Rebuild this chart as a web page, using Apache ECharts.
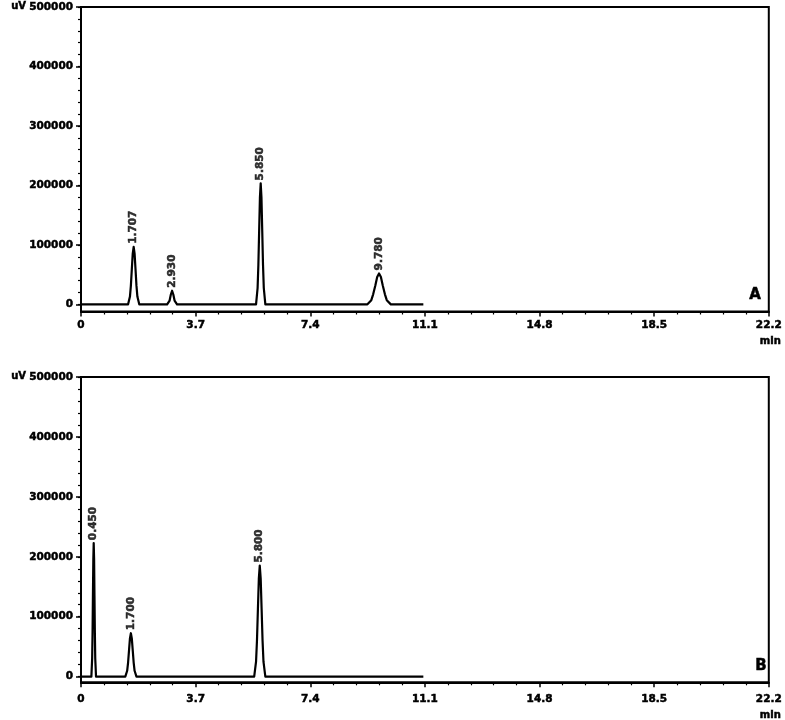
<!DOCTYPE html>
<html>
<head>
<meta charset="utf-8">
<script src="https://cdn.jsdelivr.net/npm/echarts@6/dist/echarts.min.js"></script>
<style>
  html, body { margin: 0; padding: 0; background: #fff; }
  #chart { width: 785px; height: 720px; }
</style>
</head>
<body>
<div id="chart"></div>
<script>
// ---- Data ----
// Chromatogram A (time in min, signal in uV)
const timeA = [0, 1.0, 1.52, 1.58, 1.61, 1.64, 1.67, 1.70, 1.73, 1.76, 1.79, 1.82, 1.88, 2.3,
  2.78, 2.86, 2.90, 2.94, 2.98, 3.02, 3.10, 3.5, 4.5, 5.2,
  5.65, 5.70, 5.725, 5.75, 5.775, 5.80, 5.825, 5.85, 5.875, 5.90, 5.95, 6.5, 7.5, 8.5,
  9.245, 9.37, 9.43, 9.50, 9.56, 9.62, 9.68, 9.74, 9.81, 9.87, 10.0, 10.5, 11.05];
const signalA = [0, 0, 0, 13100, 31500, 58800, 85400, 96800, 85400, 58800, 31500, 13100, 0, 0,
  0, 6400, 16600, 22900, 16600, 6400, 0, 0, 0, 0,
  0, 27500, 66100, 123500, 179400, 203400, 179400, 123500, 66100, 27500, 0, 0, 0, 0,
  0, 7000, 16900, 31600, 46000, 52100, 46000, 31600, 16900, 7000, 0, 0, 0];
const peakTimeA = [1.70, 2.94, 5.80, 9.62];
const peakHeightA = [96800, 22900, 203400, 52100];
const peakLabelA = ['1.707', '2.930', '5.850', '9.780'];

// Chromatogram B
const timeB = [0, 0.2, 0.335, 0.36, 0.373, 0.385, 0.398, 0.41, 0.423, 0.435, 0.448, 0.46, 0.485, 1.0,
  1.43, 1.49, 1.52, 1.55, 1.58, 1.61, 1.64, 1.67, 1.70, 1.73, 1.79, 3.0, 4.5,
  5.59, 5.65, 5.68, 5.71, 5.74, 5.77, 5.80, 5.83, 5.86, 5.89, 5.95, 7.5, 9.5, 11.05];
const signalB = [0, 0, 0, 30100, 72400, 135200, 196500, 222800, 196500, 135200, 72400, 30100, 0, 0,
  0, 9800, 23600, 44000, 63900, 72500, 63900, 44000, 23600, 9800, 0, 0, 0,
  0, 25000, 60300, 112500, 163500, 185400, 163500, 112500, 60300, 25000, 0, 0, 0, 0];
const peakTimeB = [0.41, 1.61, 5.77];
const peakHeightB = [222800, 72500, 185400];
const peakLabelB = ['0.450', '1.700', '5.800'];

// Ticks
const yMajorTicks = [0, 100000, 200000, 300000, 400000, 500000];
const yMinorTicks = [0, 20000, 40000, 60000, 80000, 100000, 120000, 140000, 160000, 180000,
  200000, 220000, 240000, 260000, 280000, 300000, 320000, 340000, 360000, 380000,
  400000, 420000, 440000, 460000, 480000, 500000];
const xTickStep = 3.7;
const xMax = 22.2;

// ---- Chart ----
const FONT = 'DejaVu Sans';
const pairs = (xs, ys) => xs.map((x, i) => [x, ys[i]]);
const heavy = { textBorderColor: '#000', textBorderWidth: 0.5 };

function xAxisFor(gridIndex, labelMargin) {
  return {
    type: 'value', gridIndex: gridIndex, min: 0, max: xMax, interval: xTickStep,
    axisLine: { onZero: false, lineStyle: { color: '#000', width: 2 } },
    axisTick: { length: 5, lineStyle: { color: '#000', width: 1.5 } },
    minorTick: { show: true, splitNumber: 5, length: 3, lineStyle: { color: '#000', width: 1.2 } },
    splitLine: { show: false },
    axisLabel: Object.assign({
      color: '#000', fontFamily: FONT, fontWeight: 'bold', fontSize: 10.5, margin: labelMargin,
      formatter: v => String(Math.round(v * 10) / 10)
    }, heavy)
  };
}
function yAxesFor(gridIndex, yMin) {
  return [{
    type: 'value', gridIndex: gridIndex, min: yMin, max: 500000,
    axisLine: { show: true, lineStyle: { color: '#000', width: 2 } },
    axisTick: { show: true, length: 5, customValues: yMajorTicks, lineStyle: { color: '#000', width: 1.5 } },
    splitLine: { show: false },
    axisLabel: Object.assign({
      color: '#000', fontFamily: FONT, fontWeight: 'bold', fontSize: 10.5, margin: 8,
      customValues: yMajorTicks,
      formatter: v => String(Math.round(v))
    }, heavy)
  }, {
    type: 'value', gridIndex: gridIndex, min: yMin, max: 500000, position: 'left',
    axisLine: { show: false },
    axisTick: { show: true, length: 3, customValues: yMinorTicks, lineStyle: { color: '#000', width: 1.2 } },
    splitLine: { show: false },
    axisLabel: { show: false }
  }];
}
function traceSeries(xIdx, yIdx, xs, ys) {
  return {
    type: 'line', xAxisIndex: xIdx, yAxisIndex: yIdx, data: pairs(xs, ys),
    showSymbol: false, symbol: 'none', silent: true,
    lineStyle: { color: '#000', width: 2.2, join: 'round' }
  };
}
function labelSeries(xIdx, yIdx, xs, ys, labels) {
  return {
    type: 'scatter', xAxisIndex: xIdx, yAxisIndex: yIdx, symbolSize: 0, silent: true,
    data: xs.map((x, i) => ({ value: [x, ys[i]], name: labels[i] })),
    label: Object.assign({
      show: true, position: 'top', distance: 3, rotate: 90,
      align: 'left', verticalAlign: 'middle',
      formatter: p => p.name,
      color: '#000', fontFamily: FONT, fontWeight: 'bold', fontSize: 10.5
    }, heavy)
  };
}

const textStyle = (t, size) => ({ text: t, fill: '#000', font: 'bold ' + size + 'px "' + FONT + '"', stroke: '#000', lineWidth: 0.5 });

const yA = yAxesFor(0, -12000);
const yB = yAxesFor(1, -9400);

const option = {
  animation: false,
  backgroundColor: '#fff',
  grid: [
    { left: 81, top: 7, width: 691, height: 304.5, show: true, borderColor: '#000', borderWidth: 2, containLabel: false },
    { left: 81, top: 377, width: 691, height: 305.3, show: true, borderColor: '#000', borderWidth: 2, containLabel: false }
  ],
  xAxis: [xAxisFor(0, 8), xAxisFor(1, 11.5)],
  yAxis: [yA[0], yA[1], yB[0], yB[1]],
  series: [
    traceSeries(0, 0, timeA, signalA),
    labelSeries(0, 0, peakTimeA, peakHeightA, peakLabelA),
    traceSeries(1, 2, timeB, signalB),
    labelSeries(1, 2, peakTimeB, peakHeightB, peakLabelB)
  ],
  graphic: [
    { type: 'text', left: 11, top: 1, style: textStyle('uV', 10) },
    { type: 'text', left: 11, top: 371, style: textStyle('uV', 10) },
    { type: 'text', right: 4, top: 336, style: textStyle('min', 10) },
    { type: 'text', right: 4, top: 710, style: textStyle('min', 10) },
    { type: 'text', left: 749, top: 287, style: textStyle('A', 15) },
    { type: 'text', left: 755, top: 658, style: textStyle('B', 15) }
  ]
};

const chart = echarts.init(document.getElementById('chart'), null, { renderer: 'canvas' });
chart.setOption(option);
</script>
</body>
</html>
